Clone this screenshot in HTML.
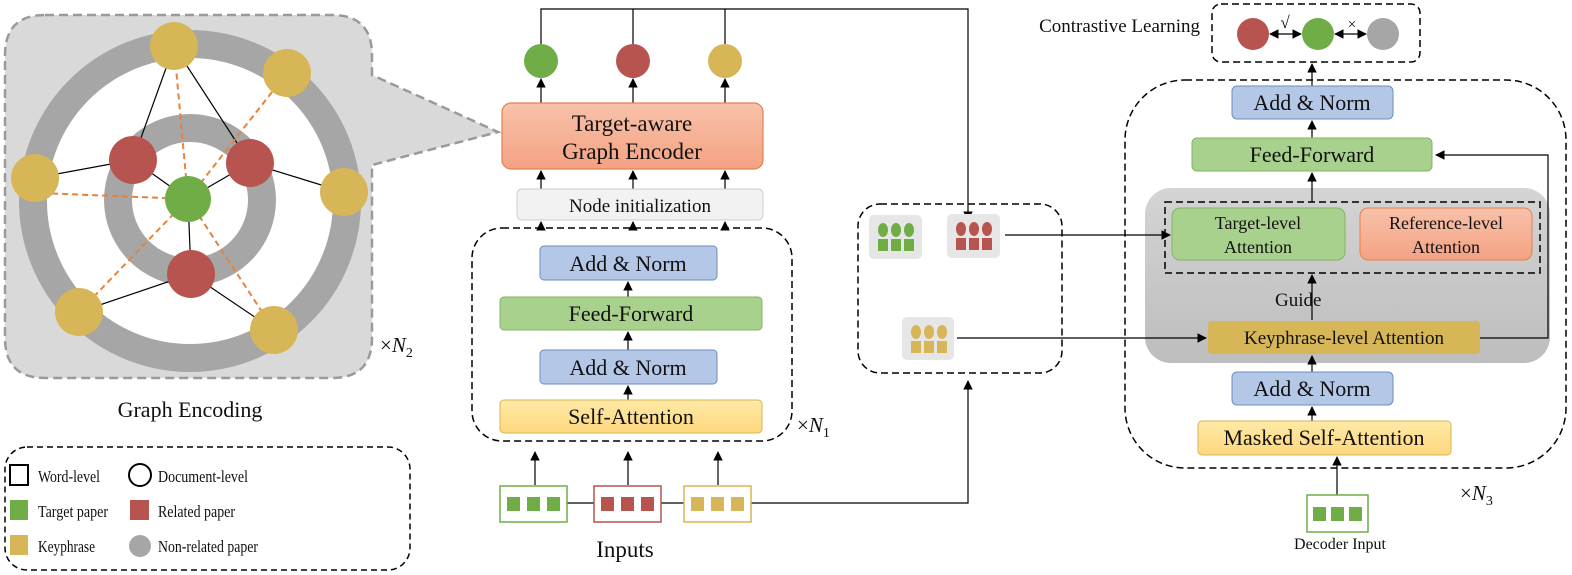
<!DOCTYPE html>
<html><head><meta charset="utf-8"><style>
html,body{margin:0;padding:0;background:#fff}
svg{display:block}
text{font-family:"Liberation Serif",serif;fill:#111}
</style></head><body>
<svg width="1572" height="575" viewBox="0 0 1572 575" xmlns="http://www.w3.org/2000/svg">
<defs>
<marker id="ah" viewBox="0 0 10 10" refX="9" refY="5" markerWidth="8" markerHeight="8" orient="auto-start-reverse"><path d="M0,0 L10,5 L0,10 z" fill="#000"/></marker>
<linearGradient id="org" x1="0" y1="0" x2="0" y2="1"><stop offset="0" stop-color="#f8c2aa"/><stop offset="1" stop-color="#f4a283"/></linearGradient>
<linearGradient id="yel" x1="0" y1="0" x2="0" y2="1"><stop offset="0" stop-color="#ffeaa6"/><stop offset="1" stop-color="#fdd77e"/></linearGradient>
<linearGradient id="gry" x1="0" y1="0" x2="0" y2="1"><stop offset="0" stop-color="#d4d4d4"/><stop offset="1" stop-color="#bdbdbd"/></linearGradient>
</defs>

<!-- Graph encoding callout -->
<path d="M45,15 H332 Q372,15 372,55 V75 L498,132 L372,165 V338 Q372,378 332,378 H45 Q5,378 5,338 V55 Q5,15 45,15 Z" fill="#d9d9d9" stroke="#9a9a9a" stroke-width="2.5" stroke-dasharray="9,5"/>
<circle cx="190" cy="201" r="157" fill="#fff" stroke="#a6a6a6" stroke-width="28"/>
<circle cx="190" cy="200" r="72" fill="#fff" stroke="#a6a6a6" stroke-width="28"/>
<g stroke="#000" stroke-width="1.2">
<line x1="174" y1="46" x2="133" y2="160"/><line x1="174" y1="46" x2="250" y2="163"/>
<line x1="35" y1="178" x2="133" y2="160"/><line x1="133" y1="160" x2="188" y2="199"/>
<line x1="188" y1="199" x2="250" y2="163"/><line x1="250" y1="163" x2="344" y2="192"/>
<line x1="188" y1="199" x2="191" y2="274"/><line x1="191" y1="274" x2="79" y2="312"/>
<line x1="191" y1="274" x2="274" y2="330"/>
</g>
<g stroke="#e8823a" stroke-width="2" stroke-dasharray="6,4">
<line x1="188" y1="199" x2="174" y2="46"/><line x1="188" y1="199" x2="287" y2="73"/>
<line x1="188" y1="199" x2="40" y2="193"/><line x1="188" y1="199" x2="79" y2="312"/>
<line x1="188" y1="199" x2="274" y2="330"/>
</g>
<g fill="#d6b656">
<circle cx="174" cy="46" r="24"/><circle cx="287" cy="73" r="24"/><circle cx="35" cy="178" r="24"/>
<circle cx="344" cy="192" r="24"/><circle cx="79" cy="312" r="24"/><circle cx="274" cy="330" r="24"/>
</g>
<g fill="#b85450"><circle cx="133" cy="160" r="24"/><circle cx="250" cy="163" r="24"/><circle cx="191" cy="274" r="24"/></g>
<circle cx="188" cy="199" r="23" fill="#70ad47"/>
<text x="380" y="352" font-size="21">×<tspan font-style="italic">N</tspan><tspan font-size="14" dy="5">2</tspan></text>
<text x="190" y="417" font-size="22" text-anchor="middle">Graph Encoding</text>

<!-- Legend -->
<rect x="5" y="447" width="405" height="123" rx="22" fill="none" stroke="#000" stroke-width="1.5" stroke-dasharray="6,4"/>
<rect x="10" y="465" width="18" height="20" fill="none" stroke="#000" stroke-width="2"/>
<rect x="10" y="500" width="18" height="20" fill="#70ad47"/>
<rect x="10" y="535" width="18" height="20" fill="#d6b656"/>
<text x="38" y="482" font-size="17" textLength="62" lengthAdjust="spacingAndGlyphs">Word-level</text>
<text x="38" y="517" font-size="17" textLength="70" lengthAdjust="spacingAndGlyphs">Target paper</text>
<text x="38" y="552" font-size="17" textLength="57" lengthAdjust="spacingAndGlyphs">Keyphrase</text>
<circle cx="140" cy="475" r="11" fill="none" stroke="#000" stroke-width="2"/>
<rect x="130" y="500" width="19" height="20" fill="#b85450"/>
<circle cx="140" cy="546" r="11" fill="#a6a6a6"/>
<text x="158" y="482" font-size="17" textLength="90" lengthAdjust="spacingAndGlyphs">Document-level</text>
<text x="158" y="517" font-size="17" textLength="77" lengthAdjust="spacingAndGlyphs">Related paper</text>
<text x="158" y="552" font-size="17" textLength="100" lengthAdjust="spacingAndGlyphs">Non-related paper</text>

<!-- Middle column -->
<polyline points="541,44 541,9 968,9 968,220" fill="none" stroke="#000" stroke-width="1.2" marker-end="url(#ah)"/>
<line x1="633" y1="9" x2="633" y2="44" stroke="#000" stroke-width="1.2"/>
<line x1="725" y1="9" x2="725" y2="44" stroke="#000" stroke-width="1.2"/>
<circle cx="541" cy="61" r="17" fill="#70ad47"/><circle cx="633" cy="61" r="17" fill="#b85450"/><circle cx="725" cy="61" r="17" fill="#d6b656"/>
<g stroke="#000" stroke-width="1.2" marker-end="url(#ah)">
<line x1="541" y1="103" x2="541" y2="79"/><line x1="633" y1="103" x2="633" y2="79"/><line x1="725" y1="103" x2="725" y2="79"/>
<line x1="541" y1="189" x2="541" y2="171"/><line x1="633" y1="189" x2="633" y2="171"/><line x1="725" y1="189" x2="725" y2="171"/>
<line x1="541" y1="230" x2="541" y2="222"/><line x1="633" y1="230" x2="633" y2="222"/><line x1="725" y1="230" x2="725" y2="222"/>
<line x1="628" y1="297" x2="628" y2="282"/><line x1="628" y1="350" x2="628" y2="332"/><line x1="628" y1="400" x2="628" y2="386"/>
<line x1="535" y1="485" x2="535" y2="452"/><line x1="628" y1="485" x2="628" y2="452"/><line x1="718" y1="485" x2="718" y2="452"/>
</g>
<rect x="502" y="103" width="261" height="66" rx="9" fill="url(#org)" stroke="#e0824f" stroke-width="1.2"/>
<text x="632" y="131" font-size="23" text-anchor="middle">Target-aware</text>
<text x="632" y="159" font-size="23" text-anchor="middle">Graph Encoder</text>
<rect x="517" y="189" width="246" height="31" rx="5" fill="#f2f2f2" stroke="#ccc"/>
<text x="640" y="212" font-size="19" text-anchor="middle">Node initialization</text>
<rect x="472" y="228" width="320" height="213" rx="30" fill="none" stroke="#000" stroke-width="1.5" stroke-dasharray="7,4"/>
<rect x="540" y="246" width="177" height="34" rx="4" fill="#b4c7e7" stroke="#6c8ebf"/>
<text x="628" y="271" font-size="22" text-anchor="middle">Add &amp; Norm</text>
<rect x="500" y="297" width="262" height="33" rx="4" fill="#a9d18e" stroke="#82b366"/>
<text x="631" y="321" font-size="22" text-anchor="middle">Feed-Forward</text>
<rect x="540" y="350" width="177" height="34" rx="4" fill="#b4c7e7" stroke="#6c8ebf"/>
<text x="628" y="375" font-size="22" text-anchor="middle">Add &amp; Norm</text>
<rect x="500" y="400" width="262" height="33" rx="4" fill="url(#yel)" stroke="#d6b656"/>
<text x="631" y="424" font-size="22" text-anchor="middle">Self-Attention</text>
<text x="797" y="432" font-size="21">×<tspan font-style="italic">N</tspan><tspan font-size="14" dy="5">1</tspan></text>
<!-- inputs -->
<polyline points="751,503 968,503 968,381" fill="none" stroke="#000" stroke-width="1.2" marker-end="url(#ah)"/>
<line x1="567" y1="503" x2="594" y2="503" stroke="#000" stroke-width="1.2"/>
<line x1="661" y1="503" x2="684" y2="503" stroke="#000" stroke-width="1.2"/>
<rect x="500" y="486" width="67" height="36" fill="#fff" stroke="#70ad47" stroke-width="1.5"/>
<rect x="594" y="486" width="67" height="36" fill="#fff" stroke="#b85450" stroke-width="1.5"/>
<rect x="684" y="486" width="67" height="36" fill="#fff" stroke="#d6b656" stroke-width="1.5"/>
<g fill="#70ad47"><rect x="507" y="497" width="13" height="14"/><rect x="527" y="497" width="13" height="14"/><rect x="547" y="497" width="13" height="14"/></g>
<g fill="#b85450"><rect x="601" y="497" width="13" height="14"/><rect x="621" y="497" width="13" height="14"/><rect x="641" y="497" width="13" height="14"/></g>
<g fill="#d6b656"><rect x="691" y="497" width="13" height="14"/><rect x="711" y="497" width="13" height="14"/><rect x="731" y="497" width="13" height="14"/></g>
<text x="625" y="557" font-size="23" text-anchor="middle">Inputs</text>

<!-- middle dashed box -->
<rect x="858" y="204" width="204" height="169" rx="22" fill="none" stroke="#000" stroke-width="1.5" stroke-dasharray="7,4"/>
<rect x="869" y="215" width="53" height="44" rx="5" fill="#e6e6e6"/>
<rect x="947" y="214" width="53" height="44" rx="5" fill="#e6e6e6"/>
<rect x="902" y="317" width="52" height="43" rx="5" fill="#e6e6e6"/>
<g fill="#70ad47"><ellipse cx="883" cy="230" rx="5" ry="7"/><ellipse cx="896" cy="230" rx="5" ry="7"/><ellipse cx="909" cy="230" rx="5" ry="7"/><rect x="878" y="239" width="10" height="12"/><rect x="891" y="239" width="10" height="12"/><rect x="904" y="239" width="10" height="12"/></g>
<g fill="#b85450"><ellipse cx="961" cy="229" rx="5" ry="7"/><ellipse cx="974" cy="229" rx="5" ry="7"/><ellipse cx="987" cy="229" rx="5" ry="7"/><rect x="956" y="238" width="10" height="12"/><rect x="969" y="238" width="10" height="12"/><rect x="982" y="238" width="10" height="12"/></g>
<g fill="#d6b656"><ellipse cx="916" cy="332" rx="5" ry="7"/><ellipse cx="929" cy="332" rx="5" ry="7"/><ellipse cx="942" cy="332" rx="5" ry="7"/><rect x="911" y="341" width="10" height="12"/><rect x="924" y="341" width="10" height="12"/><rect x="937" y="341" width="10" height="12"/></g>

<!-- Right decoder -->
<text x="1200" y="32" font-size="19" text-anchor="end">Contrastive Learning</text>
<rect x="1212" y="4" width="208" height="58" rx="9" fill="none" stroke="#000" stroke-width="1.5" stroke-dasharray="7,4"/>
<circle cx="1253" cy="34" r="16" fill="#b85450"/><circle cx="1318" cy="34" r="16" fill="#70ad47"/><circle cx="1383" cy="34" r="16" fill="#a6a6a6"/>
<line x1="1270" y1="34" x2="1301" y2="34" stroke="#000" stroke-width="1.2" marker-start="url(#ah)" marker-end="url(#ah)"/>
<line x1="1335" y1="34" x2="1366" y2="34" stroke="#000" stroke-width="1.2" marker-start="url(#ah)" marker-end="url(#ah)"/>
<text x="1285" y="28" font-size="17" text-anchor="middle">√</text>
<text x="1352" y="29" font-size="15" text-anchor="middle">×</text>

<rect x="1125" y="80" width="441" height="388" rx="60" fill="none" stroke="#000" stroke-width="1.5" stroke-dasharray="7,4"/>
<rect x="1145" y="188" width="405" height="175" rx="26" fill="url(#gry)"/>
<rect x="1165" y="202" width="375" height="71" fill="none" stroke="#000" stroke-width="1.5" stroke-dasharray="7,4"/>
<line x1="1005" y1="235" x2="1170" y2="235" stroke="#000" stroke-width="1.2" marker-end="url(#ah)"/>
<line x1="957" y1="338" x2="1206" y2="338" stroke="#000" stroke-width="1.2" marker-end="url(#ah)"/>
<g stroke="#000" stroke-width="1.2" marker-end="url(#ah)">
<line x1="1312" y1="86" x2="1312" y2="64"/>
<line x1="1312" y1="138" x2="1312" y2="121"/>
<line x1="1312" y1="202" x2="1312" y2="173"/>
<line x1="1312" y1="320" x2="1312" y2="275"/>
<line x1="1312" y1="372" x2="1312" y2="356"/>
<line x1="1312" y1="421" x2="1312" y2="407"/>
<line x1="1337" y1="495" x2="1337" y2="457"/>
</g>
<polyline points="1480,338 1548,338 1548,155 1436,155" fill="none" stroke="#000" stroke-width="1.2" marker-end="url(#ah)"/>
<rect x="1232" y="86" width="161" height="33" rx="5" fill="#b4c7e7" stroke="#6c8ebf"/>
<text x="1312" y="110" font-size="22" text-anchor="middle">Add &amp; Norm</text>
<rect x="1192" y="138" width="240" height="33" rx="5" fill="#a9d18e" stroke="#82b366"/>
<text x="1312" y="162" font-size="22" text-anchor="middle">Feed-Forward</text>
<rect x="1172" y="208" width="173" height="52" rx="8" fill="#a9d18e" stroke="#82b366"/>
<text x="1258" y="229" font-size="18" text-anchor="middle">Target-level</text>
<text x="1258" y="253" font-size="18" text-anchor="middle">Attention</text>
<rect x="1360" y="208" width="172" height="52" rx="8" fill="url(#org)" stroke="#e0824f"/>
<text x="1446" y="229" font-size="18" text-anchor="middle">Reference-level</text>
<text x="1446" y="253" font-size="18" text-anchor="middle">Attention</text>
<text x="1275" y="306" font-size="19">Guide</text>
<rect x="1208" y="321" width="272" height="33" rx="4" fill="#d6b656"/>
<text x="1344" y="344" font-size="19" text-anchor="middle">Keyphrase-level Attention</text>
<rect x="1232" y="372" width="161" height="33" rx="5" fill="#b4c7e7" stroke="#6c8ebf"/>
<text x="1312" y="396" font-size="22" text-anchor="middle">Add &amp; Norm</text>
<rect x="1198" y="421" width="253" height="34" rx="4" fill="url(#yel)" stroke="#d6b656"/>
<text x="1324" y="445" font-size="22" text-anchor="middle">Masked Self-Attention</text>
<text x="1460" y="500" font-size="21">×<tspan font-style="italic">N</tspan><tspan font-size="14" dy="5">3</tspan></text>
<rect x="1307" y="495" width="61" height="37" fill="#fff" stroke="#70ad47" stroke-width="1.5"/>
<g fill="#70ad47"><rect x="1313" y="507" width="13" height="14"/><rect x="1331" y="507" width="13" height="14"/><rect x="1349" y="507" width="13" height="14"/></g>
<text x="1340" y="549" font-size="16" text-anchor="middle">Decoder Input</text>
</svg>
</body></html>
